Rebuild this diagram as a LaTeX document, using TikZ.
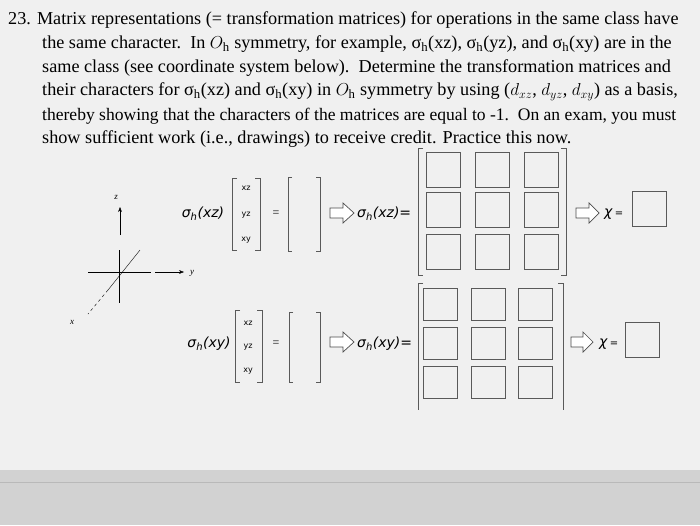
\documentclass[tikz,border=0pt]{standalone}
\usepackage{fontspec}
\usepackage{graphicx}
\setmainfont{Liberation Serif}
\newfontfamily\sfx{DejaVu Sans}
\usetikzlibrary{arrows.meta}
\begin{document}
\begin{tikzpicture}[x=1pt,y=-1pt,
  txt/.style={anchor=west,inner sep=0pt,font=\fontsize{18.2}{20}\selectfont},
  lab/.style={font=\sfx\fontsize{14}{16}\selectfont\itshape,inner sep=0pt},
  sm/.style={font=\sfx\fontsize{8}{9}\selectfont,inner sep=0pt},
  brk/.style={draw=black!65,line width=0.9pt},
  cell/.style={draw=black!65,line width=0.9pt,minimum width=34pt,minimum height=35pt,inner sep=0pt},
  cellb/.style={cell,minimum height=32pt},
  hol/.style={draw=black!70,line width=0.7pt,fill=white}]
\useasboundingbox (0,0) rectangle (700,525);
\fill[gray!12] (0,0) rectangle (700,470);
\fill[gray!35] (0,470) rectangle (700,525);
\draw[gray!55,line width=1pt] (0,482) -- (700,482);
% text
\node[txt] (l1) at (8,20) {23. Matrix representations (= transformation matrices) for operations in the same class have};
\node[txt] (l2) at (42,44) {the same character.\ \ In $O_\mathrm{h}$ symmetry, for example, σ$_\mathrm{h}$(xz), σ$_\mathrm{h}$(yz), and σ$_\mathrm{h}$(xy) are in the};
\node[txt] (l3) at (42,68) {same class (see coordinate system below).\ \ Determine the transformation matrices and};
\node[txt] (l4) at (42,92) {their characters for σ$_\mathrm{h}$(xz) and σ$_\mathrm{h}$(xy) in $O_\mathrm{h}$ symmetry by using ($d_{xz}$, $d_{yz}$, $d_{xy}$) as a basis,};
\node[txt] (l5) at (42,116) {\resizebox{634pt}{!}{thereby showing that the characters of the matrices are equal to -1.\ \ On an exam, you must}};
\node[txt] (l6) at (42,139) {show sufficient work (i.e., drawings) to receive credit. Practice this now.};
% axes
\coordinate (zb) at (120,235); \coordinate (zt) at (120,207);
\draw[-{Stealth[length=5pt]}] (zb) -- (zt);
\node[font=\fontsize{9}{10}\selectfont\itshape] (zl) at (116,197) {z};
\coordinate (v1) at (119,250); \coordinate (v2) at (119,303);
\draw (v1) -- (v2);
\coordinate (h1) at (88,272); \coordinate (h2) at (151,272);
\draw (h1) -- (h2);
\coordinate (ya) at (155,272); \coordinate (yb) at (184,272);
\draw[-{Stealth[length=5pt]}] (ya) -- (yb);
\node[font=\fontsize{9}{10}\selectfont\itshape] (yl) at (192,273) {y};
\coordinate (d1) at (140,250); \coordinate (d2) at (108,290); \coordinate (d3) at (88,314);
\draw (d1) -- (d2); \draw[dashed] (d2) -- (d3);
\node[font=\fontsize{9}{10}\selectfont\itshape] (xl) at (72,322) {x};
% row 1
\node[lab] (s1) at (203,214) {σ\textsubscript{\fontsize{10}{10}\selectfont h}(xz)};
\draw[brk] (237,178) -| (232,250) -- (237,250) (255,178) -| (260,250) -- (255,250);
\node[sm] (a1) at (246,188) {xz}; \node[sm] (a2) at (246,215) {yz}; \node[sm] (a3) at (246,240) {xy};
\node[font=\fontsize{12}{12}\selectfont] (e1) at (276,214) {=};
\draw[brk] (292,177) -| (288,251) -- (292,251) (316,177) -| (320,251) -- (316,251);
\draw[hol] (330,208) -- (343,208) -- (343,203) -- (354,213) -- (343,223) -- (343,218) -- (330,218) -- cycle;
\node[lab,anchor=west] (m1) at (357,214) {σ\textsubscript{\fontsize{10}{10}\selectfont h}(xz)=};
\draw[brk] (423,148) -| (418,275) -- (423,275) (561,148) -| (566,275) -- (561,275);
\foreach \i/\x in {1/443,2/492,3/541}{\foreach \j/\y in {1/170,2/210,3/252}{\node[cell] (p\i\j) at (\x,\y) {};}}
\draw[hol] (576,208) -- (589,208) -- (589,203) -- (599,213) -- (589,223) -- (589,218) -- (576,218) -- cycle;
\node[lab,anchor=west] (c1) at (604,214) {χ\,{\upshape\fontsize{10}{10}\selectfont =}};
\node[cell] (k1) at (649,209) {};
% row 2
\node[lab] (s2) at (209,344) {σ\textsubscript{\fontsize{10}{10}\selectfont h}(xy)};
\draw[brk] (240,310) -| (235,382) -- (240,382) (257,310) -| (262,382) -- (257,382);
\node[sm] (b1) at (248,323) {xz}; \node[sm] (b2) at (248,347) {yz}; \node[sm] (b3) at (248,371) {xy};
\node[font=\fontsize{12}{12}\selectfont] (e2) at (276,344) {=};
\draw[brk] (293,312) -| (289,382) -- (293,382) (316,312) -| (320,382) -- (316,382);
\draw[hol] (330,337) -- (343,337) -- (343,332) -- (354,342) -- (343,352) -- (343,347) -- (330,347) -- cycle;
\node[lab,anchor=west] (m2) at (357,344) {σ\textsubscript{\fontsize{10}{10}\selectfont h}(xy)=};
\draw[brk] (423,283) -| (418,410) (558,283) -| (563,410);
\foreach \i/\x in {1/440,2/488,3/535}{\foreach \j/\y in {1/304,2/343,3/382}{\node[cellb] (q\i\j) at (\x,\y) {};}}
\draw[hol] (571,337) -- (583,337) -- (583,332) -- (593,342) -- (583,352) -- (583,347) -- (571,347) -- cycle;
\node[lab,anchor=west] (c2) at (599,344) {χ\,{\upshape\fontsize{10}{10}\selectfont =}};
\node[cell] (k2) at (642,340) {};
\end{tikzpicture}
\end{document}
